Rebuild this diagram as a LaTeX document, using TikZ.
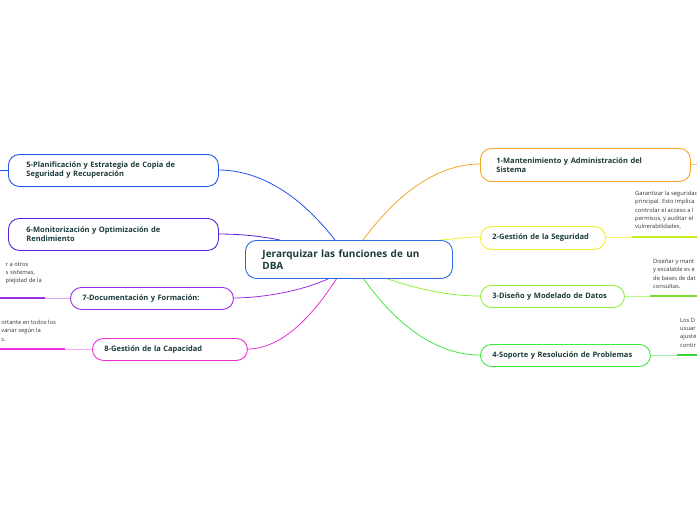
\documentclass[tikz,border=0pt]{standalone}
\usepackage{fontspec}
\setmainfont{Open Sans}
\definecolor{cblue}{HTML}{2D6BE0}
\definecolor{corange}{HTML}{F5A623}
\definecolor{cyellow}{HTML}{F2EE2A}
\definecolor{clime}{HTML}{8DF23A}
\definecolor{cgreen}{HTML}{3FEA3F}
\definecolor{cblue5}{HTML}{1F55F0}
\definecolor{cpurp6}{HTML}{5A1FE0}
\definecolor{cpurp7}{HTML}{9B2FE6}
\definecolor{cmag}{HTML}{EE2FD9}
\definecolor{ctext}{HTML}{1B3A3A}
\begin{document}
\begin{tikzpicture}[x=1pt,y=-1pt,
  topic/.style={draw=#1,line width=0.9pt,rounded corners=11pt,fill=white,anchor=north west,inner sep=0pt,align=left,font=\fontsize{7.5}{9}\selectfont\bfseries,text=ctext},
  small/.style={anchor=north west,inner sep=0pt,align=left,font=\fontsize{5.8}{8.3}\selectfont,text=black!80},
  con/.style={draw=#1,line width=0.8pt}]
\useasboundingbox (0,0) rectangle (697,520);
\clip (0,0) rectangle (697,520);
% connectors
\coordinate (c1) at (363,240); \coordinate (c2) at (440,240);
\coordinate (c3) at (385,278); \coordinate (c4) at (363,278);
\coordinate (c5) at (335,240); \coordinate (c6) at (280,240);
\coordinate (c7) at (330,278); \coordinate (c8) at (337,278);
\draw[con=corange] (c1) .. controls (400,190) and (440,164) .. (480,164);
\draw[con=cyellow] (c2) .. controls (455,239) and (465,237) .. (480,237);
\draw[con=clime] (c3) .. controls (420,290) and (450,296) .. (480,296);
\draw[con=cgreen] (c4) .. controls (400,330) and (440,355) .. (480,355);
\draw[con=cblue5] (c5) .. controls (300,195) and (260,170) .. (218,170);
\draw[con=cpurp6] (c6) .. controls (260,236) and (240,234) .. (218,234);
\draw[con=cpurp7] (c7) .. controls (300,292) and (260,298) .. (233,298);
\draw[con=cmag] (c8) .. controls (310,320) and (280,349) .. (247,349);
% side lines
\draw[corange!60,line width=0.8pt] (690,164) -- (697,164);
\draw[cblue5,line width=0.8pt] (0,170) -- (8,170);
\draw[cyellow!70,line width=0.8pt] (605,237) -- (632,237);
\draw[cyellow!80!green,line width=1.5pt] (632,237) -- (697,237);
\draw[clime!60,line width=0.8pt] (624,296) -- (650,296);
\draw[clime!90!black,line width=1.5pt] (650,296) -- (697,296);
\draw[cgreen!50,line width=0.8pt] (650,355) -- (677,355);
\draw[cgreen!90!black,line width=1.5pt] (677,355) -- (697,355);
\draw[cpurp7!40,line width=0.8pt] (45,298) -- (70,298);
\draw[cpurp7,line width=1.5pt] (0,298) -- (45,298);
\draw[cmag!40,line width=0.8pt] (65,349) -- (92,349);
\draw[cmag,line width=1.5pt] (0,349) -- (65,349);
% nodes
\node[topic=cblue,minimum height=38pt,text width=173pt,inner xsep=17pt,font=\fontsize{10}{12}\selectfont\bfseries] (ctr) at (245,240) {Jerarquizar las funciones de un\\DBA};
\node[topic=corange,minimum height=33pt,text width=178pt,inner xsep=16pt] (n1) at (480,148) {1-Mantenimiento y Administración del\\Sistema};
\node[topic=cyellow,minimum height=23pt,text width=101pt,inner xsep=12pt] (n2) at (480,226) {2-Gestión de la Seguridad};
\node[topic=clime,minimum height=22pt,text width=120pt,inner xsep=12pt] (n3) at (480,285) {3-Diseño y Modelado de Datos};
\node[topic=cgreen,minimum height=22pt,text width=146pt,inner xsep=12pt] (n4) at (480,344) {4-Soporte y Resolución de Problemas};
\node[topic=cblue5,minimum height=32pt,text width=174pt,inner xsep=18pt] (n5) at (8,154) {5-Planificación y Estrategia de Copia de\\Seguridad y Recuperación};
\node[topic=cpurp6,minimum height=32pt,text width=174pt,inner xsep=18pt] (n6) at (8,218) {6-Monitorización y Optimización de\\Rendimiento};
\node[topic=cpurp7,minimum height=22pt,text width=139pt,inner xsep=12pt] (n7) at (70,287) {7-Documentación y Formación:};
\node[topic=cmag,minimum height=22pt,text width=131pt,inner xsep=12pt] (n8) at (92,338) {8-Gestión de la Capacidad};
% small texts
\node[small] (t2) at (635,191) {Garantizar la seguridad\\principal. Esto implica\\controlar el acceso a l\\permisos, y auditar el\\vulnerabilidades.};
\node[small] (t3) at (653,259) {Diseñar y mant\\y escalable es e\\de bases de dat\\consultas.};
\node[small] (t4) at (680,318) {Los D\\usuar\\ajuste\\contir};
\node[small,anchor=north east] (t7) at (42,262) {r a otros\\s sistemas,\\plejidad de la};
\node[small,anchor=north east] (t8) at (56,320) {ortante en todos los\\variar según la\\s.};
\end{tikzpicture}
\end{document}
